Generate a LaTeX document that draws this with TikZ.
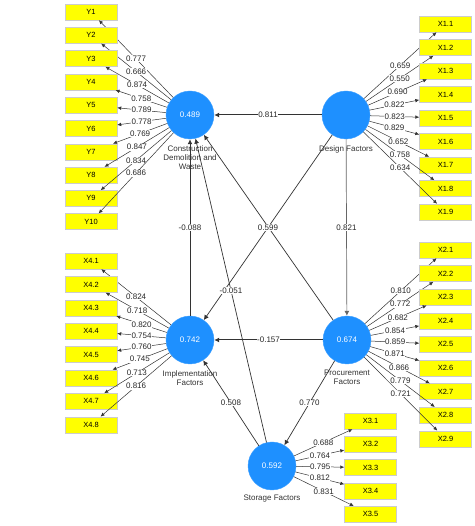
\documentclass[tikz,border=0pt]{standalone}
\usepackage{fontspec}
\setmainfont{Liberation Sans}
\usetikzlibrary{arrows.meta,positioning}
\definecolor{lvblue}{RGB}{30,144,255}
\definecolor{indyellow}{RGB}{255,255,0}

\begin{document}
\begin{tikzpicture}[
  x=1pt, y=1pt,
  latent/.style={
    circle, fill=lvblue, draw=lvblue!85!white,
    minimum size=48pt, inner sep=0pt,
    text=white, font=\fontsize{8}{9}\selectfont
  },
  indbox/.style={
    rectangle, fill=indyellow, draw=black!20,
    minimum width=52pt, minimum height=16pt, inner sep=0pt,
    font=\fontsize{7.5}{8}\selectfont
  },
  lvlabel/.style={
    font=\fontsize{8}{9}\selectfont, text=black!80,
    align=center, inner sep=1pt
  },
  coef/.style={fill=white, inner sep=0.6pt, font=\fontsize{8}{9}\selectfont, text=black!85},
  loadarr/.style={-{Latex[length=4pt,width=3.6pt]}, black!80, line width=0.5pt},
  arr/.style={-{Latex[length=5pt,width=5pt]}, black!80, line width=0.7pt},
  boldarr/.style={arr, line width=1pt}
]

% Canvas
\path[fill=white] (0,0) rectangle (474,526);

% Latent variables
\node[latent] (cdw) at (190,411) {0.489};
\node[latent] (df) at (346,411) {};
\node[latent] (if) at (190,186) {0.742};
\node[latent] (pf) at (347,186) {0.674};
\node[latent] (sf) at (272,60) {0.592};

% Names below the circles
\node[lvlabel, below=5pt of cdw] (cdwname) {Construction\\Demolition and\\Waste};
\node[lvlabel, below=5pt of df] (dfname) {Design Factors};
\node[lvlabel, below=5pt of if] (ifname) {Implementation\\Factors};
\node[lvlabel, below=5pt of pf] (pfname) {Procurement\\Factors};
\node[lvlabel, below=4pt of sf] (sfname) {Storage Factors};

% Structural paths
\draw[boldarr] (df) -- node[coef]{0.811} (cdw);
\draw[arr, black!60] (df) -- node[coef, text=black!85]{0.821} (pf);
\draw[boldarr] (if) -- node[coef]{-0.088} (cdw);
\draw[boldarr] (pf) -- node[coef]{-0.157} (if);
\draw[arr] (pf) -- (cdw);
\draw[arr] (df) -- node[coef]{0.599} (if);
\draw[arr] (sf) -- node[coef]{-0.051} (cdw);
\draw[arr] (sf) -- node[coef]{0.508} (if);
\draw[arr] (pf) -- node[coef]{0.770} (sf);

% Indicators of Construction Demolition and Waste
\foreach \i/\v in {1/0.777, 2/0.666, 3/0.874, 4/0.758, 5/0.789,
                   6/0.778, 7/0.769, 8/0.847, 9/0.834, 10/0.686} {
  \node[indbox] (y\i) at (91,{514-(\i-1)*23.3}) {Y\i};
  \draw[loadarr] (cdw) -- node[coef]{\v} (y\i);
}

% Indicators of Design Factors
\foreach \i/\v in {1/0.659, 2/0.550, 3/0.690, 4/0.822, 5/0.823,
                   6/0.829, 7/0.652, 8/0.758, 9/0.634} {
  \node[indbox] (x1\i) at (445.5,{502-(\i-1)*23.5}) {X1.\i};
  \draw[loadarr] (df) -- node[coef]{\v} (x1\i);
}

% Indicators of Implementation Factors
\foreach \i/\v in {1/0.824, 2/0.718, 3/0.820, 4/0.754,
                   5/0.760, 6/0.745, 7/0.713, 8/0.816} {
  \node[indbox] (x4\i) at (91,{265-(\i-1)*23.4}) {X4.\i};
  \draw[loadarr] (if) -- node[coef]{\v} (x4\i);
}

% Indicators of Procurement Factors
\foreach \i/\v in {1/0.810, 2/0.772, 3/0.682, 4/0.854, 5/0.859,
                   6/0.871, 7/0.866, 8/0.779, 9/0.721} {
  \node[indbox] (x2\i) at (445.5,{276-(\i-1)*23.6}) {X2.\i};
  \draw[loadarr] (pf) -- node[coef]{\v} (x2\i);
}

% Indicators of Storage Factors
\foreach \i/\v in {1/0.688, 2/0.764, 3/0.795, 4/0.812, 5/0.831} {
  \node[indbox] (x3\i) at (370.5,{105-(\i-1)*23.3}) {X3.\i};
  \draw[loadarr] (sf) -- node[coef]{\v} (x3\i);
}

\end{tikzpicture}
\end{document}
